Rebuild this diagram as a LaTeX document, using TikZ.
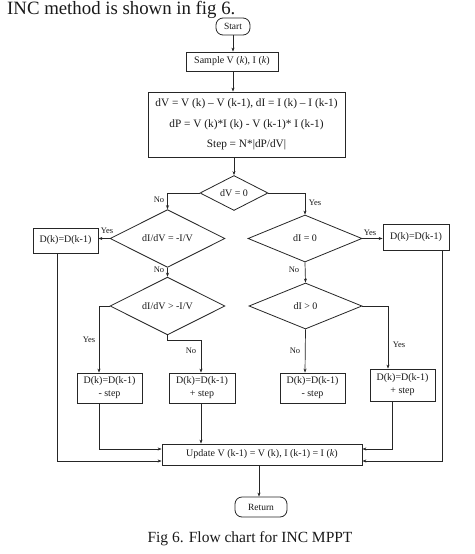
\documentclass[tikz,border=0pt]{standalone}
\usepackage{fontspec}
\setmainfont{Liberation Serif}
\usetikzlibrary{shapes.geometric,arrows.meta}
\newcommand{\myfs}[1]{\fontsize{#1}{#1}\selectfont}
\begin{document}
\begin{tikzpicture}[x=1pt,y=-1pt,
  every node/.style={text=black!90},
  box/.style={draw=black!85, line width=0.8pt, align=center, inner sep=0pt, font=\myfs{10}},
  dec/.style={draw=black!85, line width=0.8pt, diamond, inner sep=0pt, font=\myfs{10}},
  term/.style={draw=black!85, line width=0.8pt, rounded corners=7pt, inner sep=0pt, font=\myfs{9.5}},
  arr/.style={draw=black!85, line width=0.7pt, -{Stealth[length=4pt,width=3pt]}},
  lab/.style={font=\myfs{8.5}, inner sep=0pt}]
\useasboundingbox (0,0) rectangle (474,554);
\fill[white] (0,0) rectangle (474,554);

% top text and caption
\node[anchor=base west, inner sep=0pt, font=\myfs{18.8}] (toptxt) at (7,14.2) {INC method is shown in fig 6.};
\node[anchor=base, inner sep=0pt, font=\myfs{15.5}] (caption) at (250,542) {Fig 6. Flow chart for INC MPPT};

% nodes
\node[term, minimum width=34, minimum height=17] (start) at (233,26.5) {Start};
\node[box, minimum width=92, minimum height=19] (sample) at (232,61.5) {Sample V (\textit{k}), I (\textit{k})};
\node[box, minimum width=197, minimum height=65, font=\fontsize{11.3}{20.5}\selectfont] (calc) at (246.5,124.5)
  {dV = V (k) -- V (k-1), dI = I (k) -- I (k-1)\\ dP = V (k)*I (k) - V (k-1)* I (k-1)\\ Step = N*|dP/dV|};
\node[dec, minimum width=68, minimum height=31] (d1) at (234,193) {dV = 0};
\node[dec, minimum width=115, minimum height=47] (d2) at (167.5,238.5) {dI/dV = -I/V};
\node[dec, minimum width=114, minimum height=47] (d3) at (305,238.5) {dI = 0};
\node[box, minimum width=65, minimum height=25] (lbox) at (65.5,240.5) {D(k)=D(k-1)};
\node[box, minimum width=66, minimum height=26] (rbox) at (416,237) {D(k)=D(k-1)};
\node[dec, minimum width=115, minimum height=46] (d4) at (167.5,306) {dI/dV {\textgreater} -I/V};
\node[dec, minimum width=113, minimum height=46] (d5) at (305.5,306) {dI {\textgreater} 0};
\node[box, minimum width=65, minimum height=30, font=\fontsize{10}{13}\selectfont] (ba) at (109.5,388) {D(k)=D(k-1)\\- step};
\node[box, minimum width=66, minimum height=30, font=\fontsize{10}{13}\selectfont] (bb) at (202,388) {D(k)=D(k-1)\\+ step};
\node[box, minimum width=65, minimum height=30, font=\fontsize{10}{13}\selectfont] (bc) at (312.5,388) {D(k)=D(k-1)\\- step};
\node[box, minimum width=65, minimum height=32, font=\fontsize{10}{13}\selectfont] (bd) at (402.5,385) {D(k)=D(k-1)\\+ step};
\node[box, minimum width=200, minimum height=21] (upd) at (262,454.5) {Update V (k-1) = V (k), I (k-1) = I (\textit{k})};
\node[term, minimum width=52, minimum height=20] (ret) at (261,507) {Return};

% helper coordinates for connector x positions
\coordinate (xA) at (57,0);
\coordinate (xB) at (99,0);
\coordinate (xC) at (201,0);
\coordinate (xD) at (305,0);
\coordinate (xE) at (388,0);
\coordinate (xF) at (392,0);
\coordinate (xG) at (442,0);
\coordinate (xS) at (233,0);
\coordinate (xR) at (259,0);
\coordinate (yL) at (0,461);
\coordinate (yU) at (0,449);
\coordinate (yK) at (0,340);

% connectors
\draw[arr] (start.south -| xS) -- (sample.north -| xS);
\draw[arr] (sample.south -| xS) -- (calc.north -| xS);
\draw[arr] (calc.south -| d1.north) -- (d1.north);
\draw[arr] (d1.west) -| (d2.north);
\draw[arr] (d1.east) -| (d3.north);
\draw[arr] (d2.west) -- (lbox.east |- d2.west);
\draw[arr] (d3.east) -- (rbox.west |- d3.east);
\draw[arr] (d2.south) -- (d4.north);
\draw[arr] (d3.south) -- (d5.north);
\draw[arr] (d4.west) -| (ba.north -| xB);
\draw[arr] (d4.south) -- (d4.south |- yK) -| (bb.north -| xC);
\draw[arr] (d5.south) -- (bc.north -| xD);
\draw[arr] (d5.east) -| (bd.north -| xE);
\draw[arr] (lbox.south -| xA) |- (upd.west |- yL);
\draw[arr] (ba.south -| xB) |- (upd.west |- yU);
\draw[arr] (bb.south -| xC) -- (upd.north -| xC);
\draw[arr] (bd.south -| xF) |- (upd.east |- yU);
\draw[arr] (rbox.south -| xG) |- (upd.east |- yL);
\draw[arr] (upd.south -| xR) -- (ret.north -| xR);

% labels
\node[lab] (l1) at (159,200) {No};
\node[lab] (l2) at (315,203) {Yes};
\node[lab] (l3) at (107,231) {Yes};
\node[lab] (l4) at (370,233) {Yes};
\node[lab] (l5) at (159,270) {No};
\node[lab] (l6) at (294,270) {No};
\node[lab] (l7) at (89,340) {Yes};
\node[lab] (l8) at (191,351) {No};
\node[lab] (l9) at (295,351) {No};
\node[lab] (l10) at (399,345) {Yes};
\end{tikzpicture}
\end{document}
